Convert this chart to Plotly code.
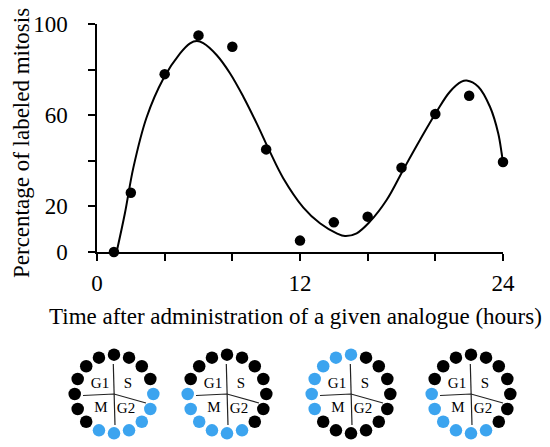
import math
import plotly.graph_objects as go

# ---- data ----
time_h = [1, 2, 4, 6, 8, 10, 12, 14, 16, 18, 20, 22, 24]
pct_labeled = [0, 26, 78, 95, 90, 45, 5, 13, 15.5, 37, 60.5, 68.5, 39.5]

curve_t = [1.16, 1.65, 2.15, 2.93, 3.92, 4.9, 5.5, 5.9, 6.28, 7.07, 7.86, 8.65, 9.44,
           10.22, 11.0, 12.2, 13.18, 14.17, 14.66, 15.35, 16.13, 17.12, 18.1, 19.09,
           20.07, 20.86, 21.55, 21.85, 22.54, 23.23, 23.72, 23.92, 24.01]
curve_p = [0, 17, 37, 59, 76, 87, 91.5, 92.5, 91.6, 86.4, 78.4, 68.1, 56.4,
           44, 32.5, 19.5, 12.6, 8.2, 7, 8.2, 13.3, 22.8, 36, 49.1,
           61.5, 70.3, 74.7, 75.2, 72.5, 63.7, 52, 43.3, 38.9]

x_tickvals = [0, 4, 8, 12, 16, 20, 24]
x_ticktext = ["0", "", "", "12", "", "", "24"]
y_tickvals = [0, 20, 40, 60, 80, 100]
y_ticktext = ["0", "20", "", "60", "", "100"]

# cell-cycle rings: 16 cells each, clockwise from top; 1 = labeled (blue)
ring_states = [
    [0, 0, 0, 0, 1, 1, 1, 1, 1, 1, 0, 0, 0, 0, 0, 0],
    [0, 0, 0, 0, 0, 0, 0, 1, 1, 1, 1, 1, 1, 0, 0, 0],
    [1, 0, 0, 0, 0, 0, 0, 0, 0, 0, 0, 1, 1, 1, 1, 1],
    [0, 0, 0, 0, 0, 0, 0, 1, 1, 1, 1, 1, 1, 0, 0, 0],
]
phase_labels = ["G1", "S", "M", "G2"]

# ---- layout constants (pixels) ----
W, H = 550, 447
FONT = "Liberation Serif, Times New Roman, serif"
BLUE = "#3ca4ef"
ring_cx = [114, 227, 351, 471]
ring_cy = 394
ring_r = 39.3
label_off = [(-14, -10), (14, -10), (-13, 14), (12, 15.5)]
BOT_TOP = 337  # pixel row where the ring panel starts

fig = go.Figure()

fig.add_trace(go.Scatter(x=curve_t, y=curve_p, mode="lines",
                         line=dict(color="black", width=2, shape="spline", smoothing=1.0),
                         hoverinfo="skip", cliponaxis=False, showlegend=False))
fig.add_trace(go.Scatter(x=time_h, y=pct_labeled, mode="markers",
                         marker=dict(color="black", size=10.5),
                         cliponaxis=False, showlegend=False))

# rings
for cx, states in zip(ring_cx, ring_states):
    n = len(states)
    xs, ys, cols = [], [], []
    for k, s in enumerate(states):
        a = math.radians(90 - 360.0 / n * k)
        xs.append(cx + ring_r * math.cos(a))
        ys.append(ring_cy - ring_r * math.sin(a))
        cols.append(BLUE if s else "black")
    fig.add_trace(go.Scatter(x=[cx - 0.7, cx, cx + 1], y=[ring_cy - 30, ring_cy, ring_cy + 31],
                             mode="lines", line=dict(color="#222", width=1.2),
                             xaxis="x2", yaxis="y2", hoverinfo="skip", showlegend=False))
    fig.add_trace(go.Scatter(x=[cx - 31, cx, cx + 32], y=[ring_cy + 1.5, ring_cy, ring_cy + 9],
                             mode="lines", line=dict(color="#222", width=1.2),
                             xaxis="x2", yaxis="y2", hoverinfo="skip", showlegend=False))
    fig.add_trace(go.Scatter(x=xs, y=ys, mode="markers",
                             marker=dict(color=cols, size=12.5, line=dict(width=0)),
                             xaxis="x2", yaxis="y2", hoverinfo="skip", cliponaxis=False,
                             showlegend=False))
    fig.add_trace(go.Scatter(x=[cx + o[0] for o in label_off],
                             y=[ring_cy + o[1] for o in label_off],
                             mode="text", text=phase_labels,
                             textfont=dict(family=FONT, size=15, color="black"),
                             xaxis="x2", yaxis="y2", hoverinfo="skip", showlegend=False))

axis_font = dict(family=FONT, size=23, color="black")
fig.update_layout(
    width=W, height=H,
    margin=dict(l=0, r=0, t=0, b=0),
    paper_bgcolor="white", plot_bgcolor="rgba(0,0,0,0)",
    showlegend=False,
    xaxis=dict(domain=[97 / W, 503 / W], range=[0, 24], tickvals=x_tickvals, ticktext=x_ticktext,
               ticks="outside", ticklen=7, tickwidth=1.5, tickcolor="black",
               showline=True, linewidth=1.5, linecolor="black", showgrid=False, zeroline=False,
               tickfont=axis_font, ticklabelstandoff=3, anchor="y", automargin=False),
    yaxis=dict(domain=[(H - 252) / H, (H - 24) / H], range=[0, 100], tickvals=y_tickvals,
               ticktext=y_ticktext, ticks="outside", ticklen=7, tickwidth=1.5, tickcolor="black",
               showline=True, linewidth=1.5, linecolor="black", showgrid=False, zeroline=False,
               tickfont=axis_font, ticklabelstandoff=16, anchor="x", automargin=False),
    xaxis2=dict(domain=[0, 1], range=[0, W], visible=False, anchor="y2"),
    yaxis2=dict(domain=[0, (H - BOT_TOP) / H], range=[H, BOT_TOP], visible=False, anchor="x2"),
    annotations=[
        dict(text="Percentage of labeled mitosis", xref="paper", yref="paper",
             x=22 / W, y=(H - 143) / H, textangle=-90, showarrow=False,
             font=axis_font, xanchor="center", yanchor="middle"),
        dict(text="Time after administration of a given analogue (hours)", xref="paper",
             yref="paper", x=295 / W, y=(H - 316) / H, showarrow=False,
             font=axis_font, xanchor="center", yanchor="middle"),
    ],
)

fig.write_html("out.html", config={"displayModeBar": False},
               post_script="document.body.style.margin='0';document.body.style.overflow='hidden';")
